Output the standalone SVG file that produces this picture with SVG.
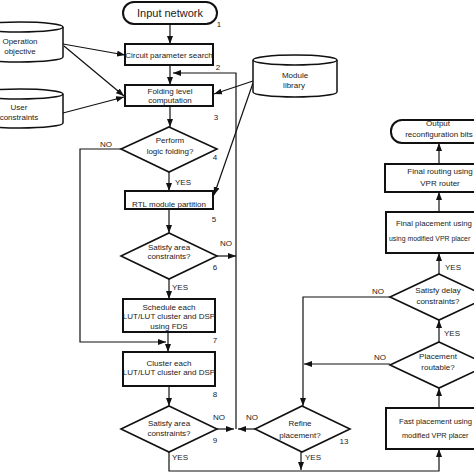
<svg xmlns="http://www.w3.org/2000/svg" width="474" height="474" viewBox="0 0 474 474">
<defs>
<marker id="ah" markerUnits="userSpaceOnUse" markerWidth="8" markerHeight="6" refX="8" refY="3" orient="auto">
<path d="M0,0 L8,3 L0,6 z" fill="#111"/>
</marker>
<style>
.box{fill:#fff;stroke:#111;stroke-width:2}
.dia{fill:#fff;stroke:#111;stroke-width:1.6}
.cyl{fill:#fff;stroke:#111;stroke-width:1.5}
.c{fill:none;stroke:#111;stroke-width:1.2;marker-end:url(#ah)}
text{font-family:"Liberation Sans",Arial,sans-serif;font-size:8px;fill:#222;text-anchor:middle}
.s{text-anchor:start}
.big{font-size:11px}
</style>
</defs>
<rect width="474" height="474" fill="#fff"/>

<g id="connectors">
<path class="c" d="M170,24 L170,44"/>
<path class="c" d="M170,65 L170,85"/>
<path class="c" d="M236,429 L236,73 L173,73"/>
<path class="c" d="M170,106 L170,127"/>
<path class="c" d="M121,149 L80,149 L80,342 L166,342"/>
<path class="c" d="M169,172 L169,191"/>
<path class="c" d="M169,209 L169,233"/>
<path class="c" d="M217,256 L236,256"/>
<path class="c" d="M169,279 L169,299"/>
<path class="c" d="M168,332 L168,352"/>
<path class="c" d="M169,386 L169,406"/>
<path class="c" d="M217,429 L234,429"/>
<path class="c" d="M255,429 L238,429"/>
<path class="c" d="M169,452 L169,471 L439,471 L439,449"/>
<path class="c" d="M301,452 L301,470"/>
<path class="c" d="M439,408 L439,388"/>
<path class="c" d="M439,342 L439,320"/>
<path class="c" d="M390,364 L304,364"/>
<path class="c" d="M390,297 L303,297 L303,406"/>
<path class="c" d="M439,274 L439,253"/>
<path class="c" d="M439,212 L439,192"/>
<path class="c" d="M439,164 L439,143"/>
<path class="c" d="M63,44 L125,55"/>
<path class="c" d="M64,46 L124,96"/>
<path class="c" d="M63,113 L124,97"/>
<path class="c" d="M253,81 L214,94"/>
<path class="c" d="M253,83 L214,195"/>
</g>

<g id="input">
<rect class="box" x="123" y="2" width="94" height="22" rx="11"/>
<text class="big" x="170" y="17">Input network</text>
<text x="219" y="27">1</text>
</g>

<g id="opobj">
<path class="cyl" d="M-23,27 L-23,57 A43,5 0 0 0 63,57 L63,27"/>
<ellipse class="cyl" cx="20" cy="27" rx="43" ry="5"/>
<text x="20" y="44">Operation</text>
<text x="20" y="54">objective</text>
</g>

<g id="userc">
<path class="cyl" d="M-23,94 L-23,123 A43,5 0 0 0 63,123 L63,94"/>
<ellipse class="cyl" cx="20" cy="94" rx="43" ry="5"/>
<text x="19" y="110">User</text>
<text x="19" y="120">constraints</text>
</g>

<g id="modlib">
<path class="cyl" d="M253,60 L253,92 A42,5 0 0 0 337,92 L337,60"/>
<ellipse class="cyl" cx="295" cy="60" rx="42" ry="5"/>
<text x="295" y="78">Module</text>
<text x="294" y="88">library</text>
</g>

<g id="circuit">
<rect class="box" x="125" y="44" width="88" height="21"/>
<text x="169" y="58">Circuit parameter search</text>
<text x="218" y="70">2</text>
</g>

<g id="folding">
<rect class="box" x="125" y="85" width="88" height="21"/>
<text x="170" y="94">Folding level</text>
<text x="170" y="103">computation</text>
<text x="216" y="120">3</text>
</g>

<g id="perform">
<polygon class="dia" points="169,127 217,149 169,172 121,149"/>
<text x="170" y="143">Perform</text>
<text x="170" y="154">logic folding?</text>
<text x="215" y="160">4</text>
<text x="106" y="147">NO</text>
<text x="183" y="185">YES</text>
</g>

<g id="rtl">
<rect class="box" x="125" y="191" width="88" height="18"/>
<text x="169" y="207">RTL module partition</text>
<text x="214" y="222">5</text>
</g>

<g id="area1">
<polygon class="dia" points="169,233 217,256 169,279 121,256"/>
<text x="169" y="250">Satisfy area</text>
<text x="169" y="259">constraints?</text>
<text x="215" y="270">6</text>
<text x="226" y="246">NO</text>
<text x="180" y="290">YES</text>
</g>

<g id="schedule">
<rect class="box" x="123" y="299" width="92" height="33"/>
<text x="169" y="310">Schedule each</text>
<text x="169" y="319">LUT/LUT cluster and DSP</text>
<text x="169" y="329">using FDS</text>
<text x="215" y="343">7</text>
</g>

<g id="cluster">
<rect class="box" x="123" y="352" width="92" height="34"/>
<text x="169" y="366">Cluster each</text>
<text x="169" y="375">LUT/LUT cluster and DSP</text>
<text x="215" y="397">8</text>
</g>

<g id="area2">
<polygon class="dia" points="169,406 217,429 169,452 121,429"/>
<text x="169" y="426">Satisfy area</text>
<text x="169" y="436">constraints?</text>
<text x="215" y="443">9</text>
<text x="219" y="420">NO</text>
<text x="180" y="460">YES</text>
</g>

<g id="refine">
<polygon class="dia" points="302,406 350,429 302,452 255,429"/>
<text x="300" y="426">Refine</text>
<text x="300" y="438">placement?</text>
<text x="344" y="444">13</text>
<text x="252" y="420">NO</text>
<text x="313" y="460">YES</text>
</g>

<g id="output">
<rect class="box" x="391" y="120" width="98" height="23" rx="11"/>
<text x="438" y="126">Output</text>
<text x="439" y="137">reconfiguration bits</text>
</g>

<g id="routing">
<rect class="box" x="385" y="164" width="108" height="28"/>
<text x="440" y="174">Final routing using</text>
<text x="440" y="186">VPR router</text>
</g>

<g id="finalplace">
<rect class="box" x="386" y="212" width="106" height="41"/>
<text class="s" x="396" y="226" style="font-size:7.8px">Final placement using</text>
<text class="s" x="389" y="241" style="font-size:6.9px">using modified VPR placer</text>
</g>

<g id="delay">
<polygon class="dia" points="439,274 488,297 439,320 390,297"/>
<text x="438" y="293">Satisfy delay</text>
<text x="438" y="304">constraints?</text>
<text x="378" y="294">NO</text>
<text x="453" y="270">YES</text>
</g>

<g id="routable">
<polygon class="dia" points="439,342 488,365 439,388 390,365"/>
<text x="438" y="359">Placement</text>
<text x="438" y="370">routable?</text>
<text x="380" y="360">NO</text>
<text x="452" y="336">YES</text>
</g>

<g id="fastplace">
<rect class="box" x="386" y="408" width="106" height="41"/>
<text class="s" x="399" y="424" style="font-size:7.7px">Fast placement using</text>
<text class="s" x="402" y="438" style="font-size:7.3px">modified VPR placer</text>
</g>
</svg>
